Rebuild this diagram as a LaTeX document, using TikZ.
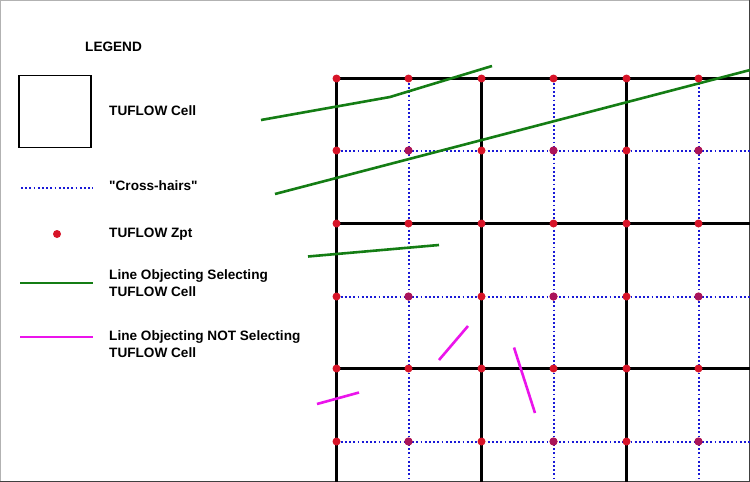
\documentclass[tikz,border=0pt]{standalone}
\usepackage{fontspec}
\setmainfont{Liberation Sans}[Ligatures=TeXOff]
\definecolor{hairblue}{RGB}{25,25,215}
\definecolor{zptred}{RGB}{215,20,40}
\definecolor{zptmix}{RGB}{170,20,90}
\definecolor{selgreen}{RGB}{20,125,20}
\definecolor{missmag}{RGB}{235,20,235}
\begin{document}
\begin{tikzpicture}[x=1pt, y=-1pt]
	\tikzstyle{cellline} = [ black, line width=2.4pt ];
	\tikzstyle{crosshair} = [ hairblue, line width=2pt, dash pattern=on 1.8pt off 2.4pt ];
	\tikzstyle{zpt} = [ circle, fill=zptred, inner sep=0pt, minimum size=8pt ];
	\tikzstyle{zptmid} = [ zpt, fill=zptmix ];
	\tikzstyle{selectline} = [ selgreen, line width=2.6pt ];
	\tikzstyle{missline} = [ missmag, line width=2.6pt ];
	\tikzstyle{keytext} = [ anchor=west, align=left, inner sep=0pt, font={\fontsize{13.6}{17}\selectfont\bfseries} ];

	\useasboundingbox (0,0) rectangle (750,482);
	\fill[white] (0,0) rectangle (750,482);
	\draw[gray!60, line width=2pt] (0,482) -- (0,0) -- (750,0);
	\draw[black!75, line width=2pt] (750,0) -- (750,482) -- (0,482);

	\def \cols {0/336.5,1/408.5,2/481.5,3/553.5,4/626.5,5/698.5}
	\def \rows {0/78.5,1/150.5,2/223.5,3/296.5,4/368.5,5/441.5}

	% grid points
	\foreach \c/\xc in \cols {
		\foreach \r/\yr in \rows {
			\coordinate (g\c\r) at (\xc,\yr);
		}
		\coordinate (b\c) at (\xc,482);
	}
	\foreach \r/\yr in \rows {
		\coordinate (e\r) at (750,\yr);
	}

	% cross-hairs and cell edges
	\foreach \i in {1,3,5} {
		\draw[crosshair] (g\i0) -- (b\i);
		\draw[crosshair] (g0\i) -- (e\i);
	}
	\foreach \i in {0,2,4} {
		\draw[cellline] (g\i0) -- (b\i);
		\draw[cellline] (g0\i) -- (e\i);
	}

	% line objects
	\coordinate (sa1) at (261,120);
	\coordinate (sa2) at (390,97);
	\coordinate (sa3) at (492,66);
	\coordinate (sb1) at (275,194);
	\coordinate (sb2) at (752,69.5);
	\coordinate (sc1) at (308,256.5);
	\coordinate (sc2) at (439,245);
	\draw[selectline] (sa1) -- (sa2) -- (sa3);
	\draw[selectline] (sb1) -- (sb2);
	\draw[selectline] (sc1) -- (sc2);

	\coordinate (ma1) at (439,360);
	\coordinate (ma2) at (468,326);
	\coordinate (mb1) at (514,347.5);
	\coordinate (mb2) at (535,413);
	\coordinate (mc1) at (317,404);
	\coordinate (mc2) at (359,392.5);
	\draw[missline] (ma1) -- (ma2);
	\draw[missline] (mb1) -- (mb2);
	\draw[missline] (mc1) -- (mc2);

	% zpts
	\foreach \c in {0,...,5} {
		\foreach \r in {0,...,5} {
			\node[zpt] (z\c\r) at (g\c\r) {};
		}
	}
	\foreach \c in {1,3,5} {
		\foreach \r in {1,3,5} {
			\node[zptmid] (zm\c\r) at (g\c\r) {};
		}
	}

	% legend
	\node[keytext] (legend) at (85,47) {LEGEND};

	\node[draw, line width=1.5pt, minimum size=72pt, inner sep=0pt] (cellkey) at (55,111.5) {};
	\node[keytext] (celltext) at (109,111) {TUFLOW Cell};

	\coordinate (hairA) at (21,187.5);
	\coordinate (hairB) at (93,187.5);
	\draw[crosshair] (hairA) -- (hairB);
	\node[keytext] (hairtext) at (109,186) {"Cross-hairs"};

	\node[zpt] (zptkey) at (57,234) {};
	\node[keytext] (zpttext) at (109,234) {TUFLOW Zpt};

	\coordinate (selA) at (20,283);
	\coordinate (selB) at (93,283);
	\draw[selectline] (selA) -- (selB);
	\node[keytext] (seltext) at (109,283.5) {Line Objecting Selecting\\TUFLOW Cell};

	\coordinate (missA) at (20,337);
	\coordinate (missB) at (93,337);
	\draw[missline] (missA) -- (missB);
	\node[keytext] (misstext) at (109,344.5) {Line Objecting NOT Selecting\\TUFLOW Cell};
\end{tikzpicture}
\end{document}
